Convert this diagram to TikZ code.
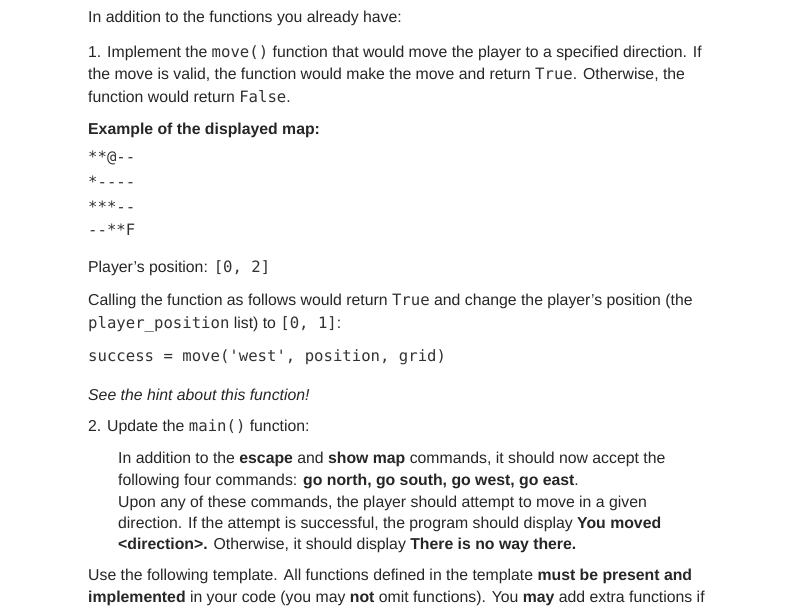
\documentclass[tikz,border=0pt]{standalone}
\usepackage{fontspec}
\setmainfont{Liberation Sans}
\setmonofont{DejaVu Sans Mono}[Scale=0.99]
\newcommand{\cd}[1]{{\ttfamily\color{black!80}#1}}
\begin{document}
\begin{tikzpicture}[x=1pt,y=-1pt,
  ln/.style={anchor=base west,inner sep=0pt,font=\fontsize{15.8}{17}\selectfont,text=black!85}]
\useasboundingbox[fill=white] (0,0) rectangle (802,610);
\node[ln] (a1) at (88,23) {In addition to the functions you already have:};
\node[ln] (a2) at (88,57) {1. Implement the \cd{move()} function that would move the player to a specified direction. If};
\node[ln] (a3) at (88,79) {the move is valid, the function would make the move and return \cd{True}. Otherwise, the};
\node[ln] (a4) at (88,102) {function would return \cd{False}.};
\node[ln] (a5) at (88,134) {\textbf{Example of the displayed map:}};
\node[ln] (m1) at (88,162) {\cd{**@--}};
\node[ln] (m2) at (88,187) {\cd{*----}};
\node[ln] (m3) at (88,212) {\cd{***--}};
\node[ln] (m4) at (88,235) {\cd{--**F}};
\node[ln] (p1) at (88,272) {Player’s position: \cd{[0, 2]}};
\node[ln] (c1) at (88,305) {Calling the function as follows would return \cd{True} and change the player’s position (the};
\node[ln] (c2) at (88,328) {\cd{player\_position} list) to \cd{[0, 1]}:};
\node[ln] (s1) at (88,361) {\cd{success = move('west', position, grid)}};
\node[ln] (h1) at (88,400) {\itshape See the hint about this function!};
\node[ln] (u1) at (88,431) {2. Update the \cd{main()} function:};
\node[ln] (i1) at (118,463) {In addition to the \textbf{escape} and \textbf{show map} commands, it should now accept the};
\node[ln] (i2) at (118,485) {following four commands: \textbf{go north, go south, go west, go east}.};
\node[ln] (i3) at (118,507) {Upon any of these commands, the player should attempt to move in a given};
\node[ln] (i4) at (118,528) {direction. If the attempt is successful, the program should display \textbf{You moved}};
\node[ln] (i5) at (118,549) {\textbf{<direction>.} Otherwise, it should display \textbf{There is no way there.}};
\node[ln] (t1) at (88,580) {Use the following template. All functions defined in the template \textbf{must be present and}};
\node[ln] (t2) at (88,602) {\textbf{implemented} in your code (you may \textbf{not} omit functions). You \textbf{may} add extra functions if};
\end{tikzpicture}
\end{document}
